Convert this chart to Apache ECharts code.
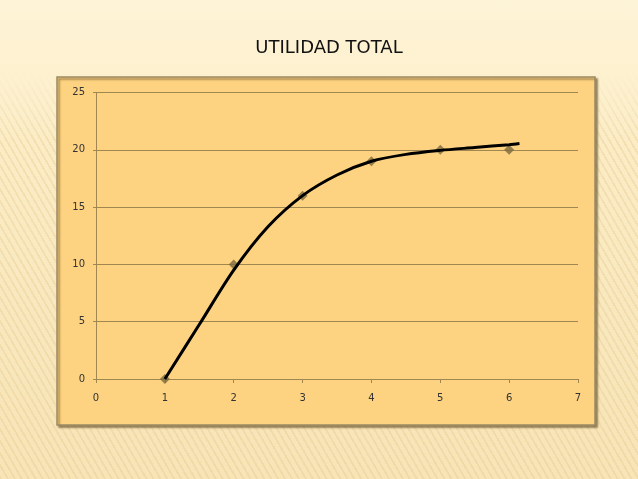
<!DOCTYPE html>
<html>
  <head>
    <meta charset="utf-8" />
    <title>Utilidad total</title>
    <script src="https://cdn.jsdelivr.net/npm/echarts@6/dist/echarts.min.js"></script>
    <style>
      html, body { margin: 0; padding: 0; }
      body {
        width: 638px; height: 479px; overflow: hidden;
        background:
          linear-gradient(to bottom, #fdf3d6 0px, #fdf1d0 70px, rgba(253,240,205,0) 140px),
          repeating-linear-gradient(60deg, rgba(226,196,130,0.3) 0 2px, rgba(255,255,255,0) 2px 6px),
          linear-gradient(to bottom, #fdf0cd, #f7e4b7);
      }
    </style>
  </head>
  <body>
    <div id="chart" style="width: 638px; height: 479px"></div>
    <script type="text/javascript">
      // puntos observados
      var cantidad = [1, 2, 3, 4, 5, 6];
      var utilidad = [0, 10, 16, 19, 20, 20];
      // linea de tendencia
      var tendX = [1, 1.5, 2, 2.5, 3, 3.5, 4, 4.5, 5, 5.5, 6, 6.15];
      var tendY = [0, 4.75, 9.5, 13.3, 16.0, 17.8, 19.0, 19.6, 19.95, 20.2, 20.45, 20.55];

      var puntos = cantidad.map(function (x, i) { return [x, utilidad[i]]; });
      var curva = tendX.map(function (x, i) { return [x, tendY[i]]; });

      var lineCol = "#a08650";
      var chart = echarts.init(document.getElementById("chart"));
      var option = {
        animation: false,
        title: {
          text: "UTILIDAD TOTAL",
          left: 324, top: 34, textAlign: "center",
          textStyle: { fontFamily: "DejaVu Sans", fontWeight: "normal", fontSize: 18, color: "#111" },
        },
        graphic: [
          {
            type: "rect", z: -10,
            shape: { x: 57, y: 77, width: 538, height: 348 },
            style: {
              fill: "#fdd381", stroke: "#9c8a64", lineWidth: 1.5,
              shadowBlur: 2, shadowOffsetX: 2, shadowOffsetY: 2, shadowColor: "rgba(90,70,30,0.6)",
            },
          },
        ],
        grid: { left: 96, right: 60, top: 92.5, bottom: 100 },
        xAxis: {
          type: "value", min: 0, max: 7, interval: 1,
          axisLine: { lineStyle: { color: lineCol, width: 1 } },
          axisTick: { show: true, length: 4, inside: false, lineStyle: { color: lineCol } },
          axisLabel: { margin: 14, fontFamily: "DejaVu Sans", fontSize: 10, color: "#333" },
          splitLine: { show: false },
        },
        yAxis: {
          type: "value", min: 0, max: 25, interval: 5,
          axisLine: { show: true, lineStyle: { color: lineCol, width: 1 } },
          axisTick: { show: true, length: 3, lineStyle: { color: lineCol } },
          axisLabel: { margin: 11, fontFamily: "DejaVu Sans", fontSize: 10, color: "#333" },
          splitLine: { show: true, lineStyle: { color: lineCol, width: 1 } },
        },
        series: [
          {
            type: "line", data: curva, smooth: 0.3, showSymbol: false,
            lineStyle: { color: "#000", width: 3 }, z: 3,
          },
          {
            type: "scatter", data: puntos, symbol: "diamond", symbolSize: 10,
            itemStyle: { color: "#7d6a3e" }, z: 2,
          },
        ],
      };
      chart.setOption(option);
    </script>
  </body>
</html>
